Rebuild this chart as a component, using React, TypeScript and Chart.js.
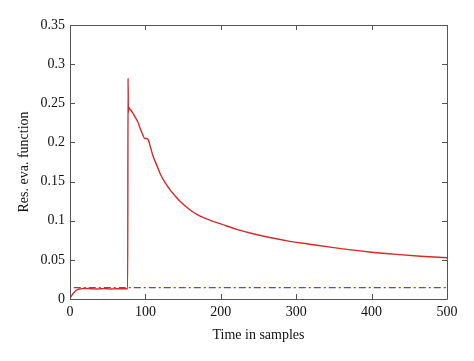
import React, { useEffect, useRef } from "react";
import { Chart, registerables } from "chart.js";

Chart.register(...registerables);

const sampleX = [0, 2, 4, 6, 8, 10, 13, 16, 20, 25, 30, 35, 40, 45, 50, 55, 60, 65, 70, 76.5, 77, 77.4, 78, 79, 80, 83, 86, 90, 93, 96, 99, 101, 104, 107, 110, 115, 120, 126, 133, 140, 148, 159, 170, 186, 200, 221, 240, 265, 290, 318, 345, 370, 400, 433, 465, 500];
const resEva = [0.001, 0.004, 0.007, 0.009, 0.011, 0.012, 0.0128, 0.0133, 0.0135, 0.0133, 0.013, 0.0128, 0.013, 0.0132, 0.013, 0.0128, 0.013, 0.0131, 0.013, 0.013, 0.282, 0.238, 0.245, 0.243, 0.242, 0.238, 0.233, 0.226, 0.218, 0.211, 0.205, 0.205, 0.203, 0.193, 0.183, 0.171, 0.159, 0.149, 0.139, 0.131, 0.123, 0.114, 0.107, 0.1005, 0.096, 0.089, 0.084, 0.0785, 0.074, 0.07, 0.0662, 0.063, 0.0598, 0.057, 0.0547, 0.0527];
const thresholdX = [5, 500];
const thresholdY = [0.0145, 0.0145];
const xTicks = [0, 100, 200, 300, 400, 500];
const yTicks = [0, 0.05, 0.1, 0.15, 0.2, 0.25, 0.3, 0.35];

const boxPlugin = {
  id: "boxTicks",
  afterDatasetsDraw(chart: any) {
    const { ctx, chartArea: a, scales } = chart;
    ctx.save();
    ctx.strokeStyle = "#555";
    ctx.lineWidth = 1;
    ctx.beginPath();
    ctx.rect(Math.round(a.left) + 0.5, Math.round(a.top) + 0.5, Math.round(a.right - a.left), Math.round(a.bottom - a.top));
    const L = 5;
    xTicks.forEach((v) => {
      const px = Math.round(scales.x.getPixelForValue(v)) + 0.5;
      ctx.moveTo(px, a.bottom);
      ctx.lineTo(px, a.bottom - L);
      ctx.moveTo(px, a.top);
      ctx.lineTo(px, a.top + L);
    });
    yTicks.forEach((v) => {
      const py = Math.round(scales.y.getPixelForValue(v)) + 0.5;
      ctx.moveTo(a.left, py);
      ctx.lineTo(a.left + L, py);
      ctx.moveTo(a.right, py);
      ctx.lineTo(a.right - L, py);
    });
    ctx.stroke();
    ctx.restore();
  },
};

export default function App() {
  const ref = useRef<HTMLCanvasElement>(null);
  useEffect(() => {
    document.body.style.margin = "0";
    const font = { family: "'Liberation Serif', 'DejaVu Serif', serif", size: 14 };
    const chart = new Chart(ref.current!, {
      type: "line",
      data: {
        datasets: [
          {
            data: sampleX.map((x, i) => ({ x, y: resEva[i] })),
            borderColor: "#d42a2a",
            borderWidth: 1.4,
            pointRadius: 0,
            cubicInterpolationMode: "monotone",
          },
          {
            data: thresholdX.map((x, i) => ({ x, y: thresholdY[i] })),
            borderColor: "#5050c4",
            borderWidth: 1.2,
            borderDash: [7, 3, 2, 3],
            pointRadius: 0,
          },
        ],
      },
      options: {
        animation: false,
        responsive: false,
        layout: { padding: { top: 25, right: 27, left: 16, bottom: 17 } },
        plugins: { legend: { display: false }, tooltip: { enabled: false } },
        scales: {
          x: {
            type: "linear",
            min: 0,
            max: 500,
            afterBuildTicks: (s: any) => { s.ticks = xTicks.map((v) => ({ value: v })); },
            afterFit: (s: any) => { s.height = 45; },
            grid: { display: false, drawTicks: false },
            border: { display: false },
            ticks: { color: "#111", font, padding: 5, maxRotation: 0 },
            title: { display: true, text: "Time in samples", color: "#111", font, padding: { top: 0, bottom: 0 } },
          },
          y: {
            min: 0,
            max: 0.35,
            afterBuildTicks: (s: any) => { s.ticks = yTicks.map((v) => ({ value: v })); },
            afterFit: (s: any) => { s.width = 54; },
            grid: { display: false, drawTicks: false },
            border: { display: false },
            ticks: { color: "#111", font, padding: 5, callback: (v: any) => String(Number(v)) },
            title: { display: true, text: "Res. eva. function", color: "#111", font, padding: { top: 0, bottom: 0 } },
          },
        },
      },
      plugins: [boxPlugin],
    });
    return () => chart.destroy();
  }, []);
  return (
    <div style={{ width: 474, height: 361 }}>
      <canvas ref={ref} width={474} height={361} style={{ display: "block" }} />
    </div>
  );
}
